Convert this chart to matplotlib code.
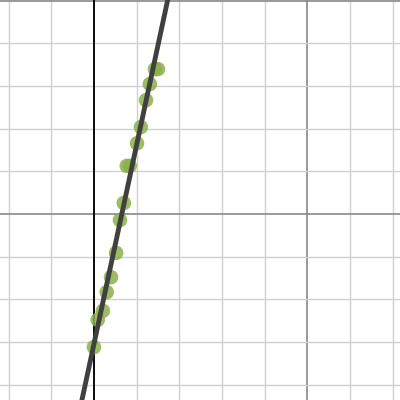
import matplotlib
matplotlib.use("Agg")
import matplotlib.pyplot as plt
import numpy as np

xs = [1.43, 1.50, 1.31, 1.22, 1.10, 1.01, 0.84, 0.77, 0.70, 0.61, 0.52, 0.40, 0.30, 0.21, 0.09, 0.0]
ys = [3.40, 3.40, 3.05, 2.67, 2.04, 1.66, 1.13, 1.13, 0.26, -0.14, -0.91, -1.48, -1.83, -2.27, -2.48, -3.12]
slope = 4.67
intercept = -3.05

fig = plt.figure(figsize=(4, 4), dpi=100)
ax = fig.add_axes([0, 0, 1, 1])
xmin, xmax = -2.2, 7.17
ymin, ymax = -4.36, 5.02
ax.set_xlim(xmin, xmax)
ax.set_ylim(ymin, ymax)
for gx in range(-2, 8):
    major = gx % 5 == 0
    ax.axvline(gx, color='#888888' if major else '#d0d0d0', lw=1.2 if major else 1, zorder=0)
for gy in range(-4, 6):
    major = gy % 5 == 0
    ax.axhline(gy, color='#888888' if major else '#d0d0d0', lw=1.2 if major else 1, zorder=0)
ax.axvline(0, color='black', lw=1.3, zorder=1)
ax.scatter(xs, ys, s=110, color='#8cb04a', alpha=0.85, edgecolors='none', zorder=2)
lx = np.array([xmin, xmax])
ax.plot(lx, slope * lx + intercept, color='#404040', lw=3.5, zorder=3)
ax.set_axis_off()
fig.savefig("out.png", dpi=100)
